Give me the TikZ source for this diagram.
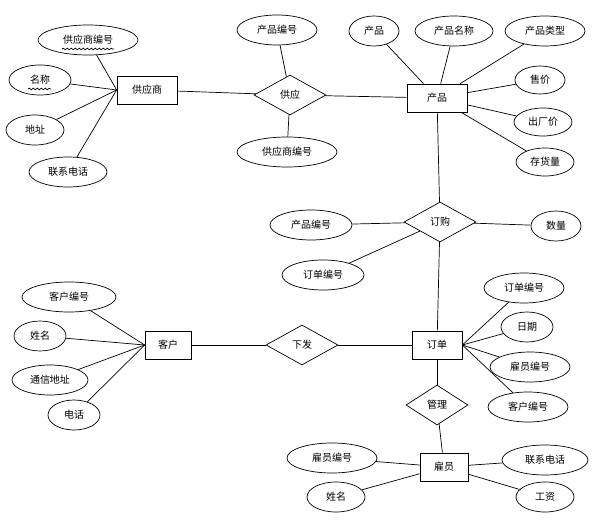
\documentclass[tikz,border=0pt]{standalone}
\usepackage{fontspec}
\setmainfont{Liberation Sans}
\newfontfamily\cjk{Noto Sans CJK SC}
\usetikzlibrary{shapes.geometric,decorations.pathmorphing}
\begin{document}
\begin{tikzpicture}[x=1pt,y=-1pt,font=\cjk\fontsize{10}{11}\selectfont,
 att/.style={draw,ellipse,inner sep=0pt,minimum height=30pt},
 ent/.style={draw,rectangle,minimum height=28pt},
 rel/.style={draw,diamond,aspect=1.8,inner sep=0pt,minimum height=40pt,minimum width=72pt},
 every path/.style={line width=0.7pt}]
\useasboundingbox (0,0) rectangle (605,529);
% supplier
\node[ent,minimum width=60pt] (gys) at (147,90) {供应商};
\node[att,minimum width=100pt] (a1) at (88,40) {供应商编号};
\node[att,minimum width=62pt] (a2) at (40,80) {名称};
\node[att,minimum width=58pt] (a3) at (35,130) {地址};
\node[att,minimum width=78pt] (a4) at (68,172) {联系电话};
\draw[decorate,decoration={snake,amplitude=0.8pt,segment length=4pt}] (62,49) -- (114,49);
\draw[decorate,decoration={snake,amplitude=0.8pt,segment length=4pt}] (28,89) -- (51,89);
\foreach \a in {a1,a2,a3,a4} \draw (\a) -- (gys.west);
% supply
\node[rel] (gy) at (290,95) {供应};
\node[att,minimum width=80pt] (b1) at (277,30) {产品编号};
\node[att,minimum width=100pt] (b2) at (287,152) {供应商编号};
\draw (gys) -- (gy); \draw (b1) -- (gy); \draw (b2) -- (gy);
% product
\node[ent,minimum width=60pt] (cp) at (437,98) {产品};
\draw (gy) -- (cp);
\node[att,minimum width=50pt] (c1) at (374,31) {产品};
\node[att,minimum width=78pt] (c2) at (454,31) {产品名称};
\node[att,minimum width=80pt] (c3) at (545,31) {产品类型};
\node[att,minimum width=50pt,minimum height=28pt] (c4) at (540,80) {售价};
\node[att,minimum width=58pt,minimum height=28pt] (c5) at (543,122) {出厂价};
\node[att,minimum width=58pt,minimum height=28pt] (c6) at (545,162) {存货量};
\foreach \a in {c1,c2,c3,c4,c5,c6} \draw (\a) -- (cp);
% order relation
\node[rel] (dg) at (440,222) {订购};
\node[att,minimum width=82pt] (d1) at (311,225) {产品编号};
\node[att,minimum width=82pt] (d2) at (323,275) {订单编号};
\node[att,minimum width=50pt] (d3) at (556,226) {数量};
\draw (cp) -- (dg); \draw (d1) -- (dg); \draw (d2) -- (dg); \draw (d3) -- (dg);
% order entity
\node[ent,minimum width=50pt] (dd) at (437,345) {订单};
\draw (dg) -- (dd);
\node[att,minimum width=80pt] (e1) at (524,288) {订单编号};
\node[att,minimum width=52pt] (e2) at (527,327) {日期};
\node[att,minimum width=80pt] (e3) at (530,367) {雇员编号};
\node[att,minimum width=80pt] (e4) at (528,407) {客户编号};
\foreach \a in {e1,e2,e3,e4} \draw (\a) -- (dd.east);
% customer
\node[ent,minimum width=46pt] (kh) at (168,345) {客户};
\node[rel] (xf) at (302,345) {下发};
\draw (kh) -- (xf); \draw (xf) -- (dd);
\node[att,minimum width=94pt] (f1) at (69,297) {客户编号};
\node[att,minimum width=52pt] (f2) at (40,336) {姓名};
\node[att,minimum width=76pt] (f3) at (50,380) {通信地址};
\node[att,minimum width=52pt] (f4) at (74,415) {电话};
\foreach \a in {f1,f2,f3,f4} \draw (\a) -- (kh.west);
% employee
\node[rel,minimum width=62pt] (gl) at (437,405) {管理};
\node[ent,minimum width=48pt] (gy2) at (444,467) {雇员};
\draw (dd) -- (gl); \draw (gl) -- (gy2);
\node[att,minimum width=90pt] (g1) at (332,458) {雇员编号};
\node[att,minimum width=58pt] (g2) at (336,497) {姓名};
\node[att,minimum width=86pt] (g3) at (545,460) {联系电话};
\node[att,minimum width=58pt] (g4) at (545,497) {工资};
\draw (g1) -- (gy2); \draw (g2) -- (gy2); \draw (g3) -- (gy2); \draw (g4) -- (gy2);
\end{tikzpicture}
\end{document}
